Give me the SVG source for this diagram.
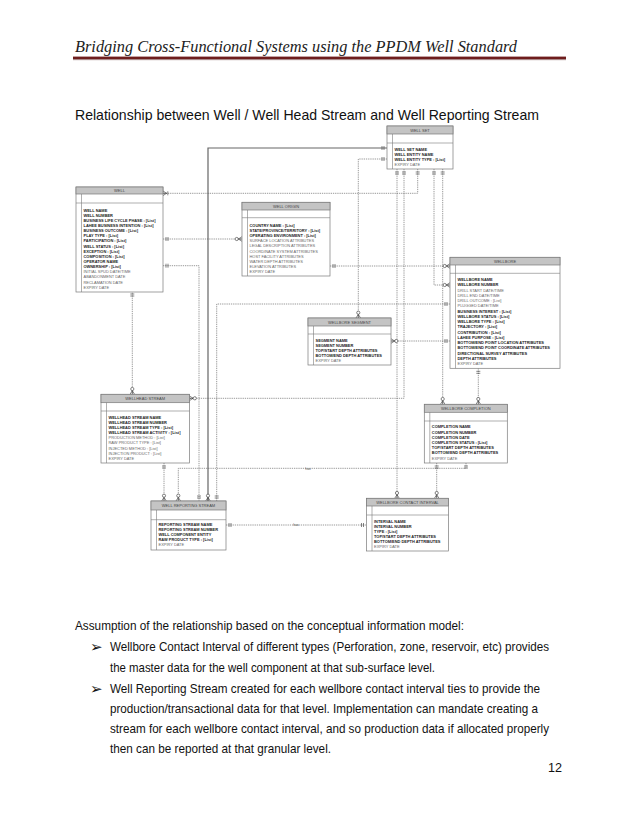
<svg xmlns="http://www.w3.org/2000/svg" width="638" height="826" viewBox="0 0 638 826">
<style>
.box{fill:#fff;stroke:#7a7a7a;stroke-width:0.7}
.hdr{fill:#c4c4c4;stroke:#7a7a7a;stroke-width:0.7}
.div{stroke:#7a7a7a;stroke-width:0.6}
.ht{font-family:"Liberation Sans",Arial,sans-serif;font-size:4px;fill:#444;text-anchor:middle}
.et{font-family:"Liberation Sans",Arial,sans-serif;font-size:3.95px;fill:#222}
.b{font-weight:bold;fill:#1a1a1a}
.n{font-weight:normal;fill:#666}
.dc{fill:none;stroke:#555;stroke-width:0.6;stroke-dasharray:1.3 0.9;marker-start:url(#one);marker-end:url(#many0)}
.sc{fill:none;stroke:#666;stroke-width:1.2;marker-start:url(#one);marker-end:url(#many0)}
.lbl{font-family:"Liberation Sans",Arial,sans-serif;font-size:3.4px;fill:#555;text-anchor:middle}
.body{font-family:"Liberation Sans",Arial,sans-serif;font-size:12.6px;fill:#111}
.bul{font-family:"DejaVu Sans",sans-serif;font-size:15px;fill:#111}
</style>
<defs>
<marker id="many0" markerUnits="userSpaceOnUse" orient="auto" refX="0" refY="0" style="overflow:visible">
<path d="M-3.6,0 L0,-2.3 M-3.6,0 L0,0 M-3.6,0 L0,2.3" stroke="#333" stroke-width="0.6" fill="none" stroke-dasharray="none"/>
<circle cx="-5.3" cy="0" r="1.6" fill="#fff" stroke="#333" stroke-width="0.6" stroke-dasharray="none"/>
</marker>
<marker id="many1" markerUnits="userSpaceOnUse" orient="auto" refX="0" refY="0" style="overflow:visible">
<path d="M-3.6,0 L0,-2.3 M-3.6,0 L0,0 M-3.6,0 L0,2.3 M-4.8,-2 V2" stroke="#333" stroke-width="0.6" fill="none" stroke-dasharray="none"/>
</marker>
<marker id="one" markerUnits="userSpaceOnUse" orient="auto" refX="0" refY="0" style="overflow:visible">
<path d="M3,-2 V2 M5,-2 V2" stroke="#333" stroke-width="0.6" fill="none" stroke-dasharray="none"/>
</marker>
<marker id="oneEnd" markerUnits="userSpaceOnUse" orient="auto" refX="0" refY="0" style="overflow:visible">
<path d="M-3,-2 V2 M-5,-2 V2" stroke="#333" stroke-width="0.6" fill="none" stroke-dasharray="none"/>
</marker>
</defs>
<rect width="638" height="826" fill="#fff"/>

<text x="75" y="52" font-family="Liberation Serif, serif" font-style="italic" font-size="17" fill="#222" textLength="442" lengthAdjust="spacingAndGlyphs">Bridging Cross-Functional Systems using the PPDM Well Standard</text>
<rect x="73" y="59" width="493" height="1.2" fill="#b9a5a5"/>
<rect x="73" y="56.6" width="493" height="2.6" fill="#6e1d1d"/>
<text x="75" y="120" font-family="Liberation Sans, sans-serif" font-size="15" fill="#111" textLength="464" lengthAdjust="spacingAndGlyphs">Relationship between Well / Well Head Stream and Well Reporting Stream</text>

<g id="connectors">
<path class="sc" d="M387,148 H208 V501"/>
<path class="dc" d="M387,159 H358.3 V318"/>
<path class="dc" d="M397,169 V498.3"/>
<path class="dc" d="M404,169 V398.3 H189.5"/>
<path class="dc" d="M417.7,169 V193.3 H163" style="marker-end:url(#many1)"/>
<path class="dc" d="M434,169 V285 H450"/>
<path class="dc" d="M442.7,169 V404.3"/>
<path class="dc" d="M163,239 H242"/>
<path class="dc" d="M163,265.7 H199 V501" style="marker-end:url(#oneEnd)"/>
<path class="dc" d="M330,266 H450"/>
<path class="dc" d="M450,304 H216.7 V501" style="marker-end:url(#oneEnd)"/>
<path class="dc" d="M450,341 H391"/>
<path class="dc" d="M132.3,291 V394.3"/>
<path class="dc" d="M478.3,368.3 V404.3"/>
<path class="dc" d="M164,463 V501"/>
<path class="dc" d="M466,463 V468.3 H178.3 V501"/>
<path class="dc" d="M436.7,463 V498.3"/>
<path class="dc" d="M226,525 H366.5" style="marker-end:url(#oneEnd)"/>
<text class="lbl" x="308" y="469.5">has</text>
<text class="lbl" x="296" y="526.2">has</text>
</g>

<g id="well-set">
<rect class="box" x="387" y="126" width="66" height="43"/>
<rect class="hdr" x="387" y="126" width="66" height="8"/>
<line class="div" x1="387" y1="143" x2="453" y2="143"/>
<line class="div" x1="392.5" y1="134" x2="392.5" y2="169"/>
<text class="ht" x="420" y="131.5">WELL SET</text>
<text class="et" x="394.5" y="151"><tspan class="b" x="394.5">WELL SET NAME</tspan><tspan class="b" x="394.5" dy="5.1">WELL ENTITY NAME</tspan><tspan class="b" x="394.5" dy="5.1">WELL ENTITY TYPE : [List]</tspan><tspan class="n" x="394.5" dy="5.1">EXPIRY DATE</tspan></text>
</g>

<g id="well">
<rect class="box" x="76" y="187" width="87" height="105"/>
<rect class="hdr" x="76" y="187" width="87" height="7"/>
<line class="div" x1="76" y1="203" x2="163" y2="203"/>
<line class="div" x1="81.5" y1="194" x2="81.5" y2="292"/>
<text class="ht" x="119.5" y="192">WELL</text>
<text class="et" x="83.5" y="211.5"><tspan class="b" x="83.5">WELL NAME</tspan><tspan class="b" x="83.5" dy="5.15">WELL NUMBER</tspan><tspan class="b" x="83.5" dy="5.15">BUSINESS LIFE CYCLE PHASE : [List]</tspan><tspan class="b" x="83.5" dy="5.15">LAHEE BUSINESS INTENTION : [List]</tspan><tspan class="b" x="83.5" dy="5.15">BUSINESS OUTCOME : [List]</tspan><tspan class="b" x="83.5" dy="5.15">PLAY TYPE : [List]</tspan><tspan class="b" x="83.5" dy="5.15">PARTICIPATION : [List]</tspan><tspan class="b" x="83.5" dy="5.15">WELL STATUS : [List]</tspan><tspan class="b" x="83.5" dy="5.15">EXCEPTION : [List]</tspan><tspan class="b" x="83.5" dy="5.15">COMPOSITION : [List]</tspan><tspan class="b" x="83.5" dy="5.15">OPERATOR NAME</tspan><tspan class="b" x="83.5" dy="5.15">OWNERSHIP : [List]</tspan><tspan class="n" x="83.5" dy="5.15">INITIAL SPUD DATE/TIME</tspan><tspan class="n" x="83.5" dy="5.15">ABANDONMENT DATE</tspan><tspan class="n" x="83.5" dy="5.15">RECLAMATION DATE</tspan><tspan class="n" x="83.5" dy="5.15">EXPIRY DATE</tspan></text>
</g>

<g id="well-origin">
<rect class="box" x="242" y="202.3" width="88" height="73.7"/>
<rect class="hdr" x="242" y="202.3" width="88" height="7.7"/>
<line class="div" x1="242" y1="217.7" x2="330" y2="217.7"/>
<line class="div" x1="247.5" y1="210" x2="247.5" y2="276"/>
<text class="ht" x="286" y="207.6">WELL ORIGIN</text>
<text class="et" x="249.5" y="226.6"><tspan class="b" x="249.5">COUNTRY NAME : [List]</tspan><tspan class="b" x="249.5" dy="5.19">STATE/PROVINCE/TERRITORY : [List]</tspan><tspan class="b" x="249.5" dy="5.19">OPERATING ENVIRONMENT : [List]</tspan><tspan class="n" x="249.5" dy="5.19">SURFACE LOCATION ATTRIBUTES</tspan><tspan class="n" x="249.5" dy="5.19">LEGAL DESCRIPTION ATTRIBUTES</tspan><tspan class="n" x="249.5" dy="5.19">COORDINATE SYSTEM ATTRIBUTES</tspan><tspan class="n" x="249.5" dy="5.19">HOST FACILITY ATTRIBUTES</tspan><tspan class="n" x="249.5" dy="5.19">WATER DEPTH ATTRIBUTES</tspan><tspan class="n" x="249.5" dy="5.19">ELEVATION ATTRIBUTES</tspan><tspan class="n" x="249.5" dy="5.19">EXPIRY DATE</tspan></text>
</g>

<g id="wellbore">
<rect class="box" x="450" y="257.3" width="110" height="111"/>
<rect class="hdr" x="450" y="257.3" width="110" height="7.7"/>
<line class="div" x1="450" y1="273.3" x2="560" y2="273.3"/>
<line class="div" x1="455.5" y1="265" x2="455.5" y2="368.3"/>
<text class="ht" x="505" y="262.6">WELLBORE</text>
<text class="et" x="457.5" y="281"><tspan class="b" x="457.5">WELLBORE NAME</tspan><tspan class="b" x="457.5" dy="5.25">WELLBORE NUMBER</tspan><tspan class="n" x="457.5" dy="5.25">DRILL START DATE/TIME</tspan><tspan class="n" x="457.5" dy="5.25">DRILL END DATE/TIME</tspan><tspan class="n" x="457.5" dy="5.25">DRILL OUTCOME : [List]</tspan><tspan class="n" x="457.5" dy="5.25">PLUGGED DATE/TIME</tspan><tspan class="b" x="457.5" dy="5.25">BUSINESS INTEREST : [List]</tspan><tspan class="b" x="457.5" dy="5.25">WELLBORE STATUS : [List]</tspan><tspan class="b" x="457.5" dy="5.25">WELLBORE TYPE : [List]</tspan><tspan class="b" x="457.5" dy="5.25">TRAJECTORY : [List]</tspan><tspan class="b" x="457.5" dy="5.25">CONTRIBUTION : [List]</tspan><tspan class="b" x="457.5" dy="5.25">LAHEE PURPOSE : [List]</tspan><tspan class="b" x="457.5" dy="5.25">BOTTOM/END POINT LOCATION ATTRIBUTES</tspan><tspan class="b" x="457.5" dy="5.25">BOTTOM/END POINT COORDINATE ATTRIBUTES</tspan><tspan class="b" x="457.5" dy="5.25">DIRECTIONAL SURVEY ATTRIBUTES</tspan><tspan class="b" x="457.5" dy="5.25">DEPTH ATTRIBUTES</tspan><tspan class="n" x="457.5" dy="5.25">EXPIRY DATE</tspan></text>
</g>

<g id="wellbore-segment">
<rect class="box" x="308" y="318" width="83" height="47"/>
<rect class="hdr" x="308" y="318" width="83" height="8"/>
<line class="div" x1="308" y1="334" x2="391" y2="334"/>
<line class="div" x1="313.5" y1="326" x2="313.5" y2="365"/>
<text class="ht" x="349.5" y="323.5">WELLBORE SEGMENT</text>
<text class="et" x="315.5" y="341.6"><tspan class="b" x="315.5">SEGMENT NAME</tspan><tspan class="b" x="315.5" dy="5.2">SEGMENT NUMBER</tspan><tspan class="b" x="315.5" dy="5.2">TOP/START DEPTH ATTRIBUTES</tspan><tspan class="b" x="315.5" dy="5.2">BOTTOM/END DEPTH ATTRIBUTES</tspan><tspan class="n" x="315.5" dy="5.2">EXPIRY DATE</tspan></text>
</g>

<g id="wellhead-stream">
<rect class="box" x="101" y="394.3" width="88.5" height="68.7"/>
<rect class="hdr" x="101" y="394.3" width="88.5" height="8.4"/>
<line class="div" x1="101" y1="411" x2="189.5" y2="411"/>
<line class="div" x1="106.5" y1="402.7" x2="106.5" y2="463"/>
<text class="ht" x="145.2" y="400">WELLHEAD STREAM</text>
<text class="et" x="108.5" y="418.6"><tspan class="b" x="108.5">WELLHEAD STREAM NAME</tspan><tspan class="b" x="108.5" dy="5.17">WELLHEAD STREAM NUMBER</tspan><tspan class="b" x="108.5" dy="5.17">WELLHEAD STREAM TYPE : [List]</tspan><tspan class="b" x="108.5" dy="5.17">WELLHEAD STREAM ACTIVITY : [List]</tspan><tspan class="n" x="108.5" dy="5.17">PRODUCTION METHOD : [List]</tspan><tspan class="n" x="108.5" dy="5.17">RAW PRODUCT TYPE : [List]</tspan><tspan class="n" x="108.5" dy="5.17">INJECTED METHOD : [List]</tspan><tspan class="n" x="108.5" dy="5.17">INJECTION PRODUCT : [List]</tspan><tspan class="n" x="108.5" dy="5.17">EXPIRY DATE</tspan></text>
</g>

<g id="wellbore-completion">
<rect class="box" x="424.3" y="404.3" width="83" height="58.7"/>
<rect class="hdr" x="424.3" y="404.3" width="83" height="8"/>
<line class="div" x1="424.3" y1="421" x2="507.3" y2="421"/>
<line class="div" x1="429.8" y1="412.3" x2="429.8" y2="463"/>
<text class="ht" x="465.8" y="409.8">WELLBORE COMPLETION</text>
<text class="et" x="431.8" y="428.3"><tspan class="b" x="431.8">COMPLETION NAME</tspan><tspan class="b" x="431.8" dy="5.2">COMPLETION NUMBER</tspan><tspan class="b" x="431.8" dy="5.2">COMPLETION DATE</tspan><tspan class="b" x="431.8" dy="5.2">COMPLETION STATUS : [List]</tspan><tspan class="b" x="431.8" dy="5.2">TOP/START DEPTH ATTRIBUTES</tspan><tspan class="b" x="431.8" dy="5.2">BOTTOM/END DEPTH ATTRIBUTES</tspan><tspan class="n" x="431.8" dy="5.2">EXPIRY DATE</tspan></text>
</g>

<g id="well-reporting-stream">
<rect class="box" x="151" y="501" width="75" height="49"/>
<rect class="hdr" x="151" y="501" width="75" height="9"/>
<line class="div" x1="151" y1="519.7" x2="226" y2="519.7"/>
<line class="div" x1="156.5" y1="510" x2="156.5" y2="550"/>
<text class="ht" x="188.5" y="507">WELL REPORTING STREAM</text>
<text class="et" x="158.5" y="525.6"><tspan class="b" x="158.5">REPORTING STREAM NAME</tspan><tspan class="b" x="158.5" dy="5.2">REPORTING STREAM NUMBER</tspan><tspan class="b" x="158.5" dy="5.2">WELL COMPONENT ENTITY</tspan><tspan class="b" x="158.5" dy="5.2">RAW PRODUCT TYPE : [List]</tspan><tspan class="n" x="158.5" dy="5.2">EXPIRY DATE</tspan></text>
</g>

<g id="wellbore-contact-interval">
<rect class="box" x="366.5" y="498.3" width="82" height="52.7"/>
<rect class="hdr" x="366.5" y="498.3" width="82" height="7.7"/>
<line class="div" x1="366.5" y1="515" x2="448.5" y2="515"/>
<line class="div" x1="372" y1="506" x2="372" y2="551"/>
<text class="ht" x="407.5" y="503.6">WELLBORE CONTACT INTERVAL</text>
<text class="et" x="374" y="522.6"><tspan class="b" x="374">INTERVAL NAME</tspan><tspan class="b" x="374" dy="5.1">INTERVAL NUMBER</tspan><tspan class="b" x="374" dy="5.1">TYPE : [List]</tspan><tspan class="b" x="374" dy="5.1">TOP/START DEPTH ATTRIBUTES</tspan><tspan class="b" x="374" dy="5.1">BOTTOM/END DEPTH ATTRIBUTES</tspan><tspan class="n" x="374" dy="5.1">EXPIRY DATE</tspan></text>
</g>

<text class="body" x="75" y="630" textLength="389" lengthAdjust="spacingAndGlyphs">Assumption of the relationship based on the conceptual information model:</text>
<text class="bul" x="90" y="652">➢</text>
<text class="body" x="110" y="651" textLength="439" lengthAdjust="spacingAndGlyphs">Wellbore Contact Interval of different types (Perforation, zone, reservoir, etc) provides</text>
<text class="body" x="110" y="672" textLength="325" lengthAdjust="spacingAndGlyphs">the master data for the well component at that sub-surface level.</text>
<text class="bul" x="90" y="694">➢</text>
<text class="body" x="110" y="693" textLength="430" lengthAdjust="spacingAndGlyphs">Well Reporting Stream created for each wellbore contact interval ties to provide the</text>
<text class="body" x="110" y="713" textLength="428" lengthAdjust="spacingAndGlyphs">production/transactional  data for that level. Implementation can mandate creating a</text>
<text class="body" x="110" y="733" textLength="439" lengthAdjust="spacingAndGlyphs">stream for each wellbore contact interval, and so production  data if allocated properly</text>
<text class="body" x="110" y="753" textLength="221" lengthAdjust="spacingAndGlyphs">then can be reported  at that granular level.</text>
<text class="body" x="548" y="772">12</text>
</svg>
